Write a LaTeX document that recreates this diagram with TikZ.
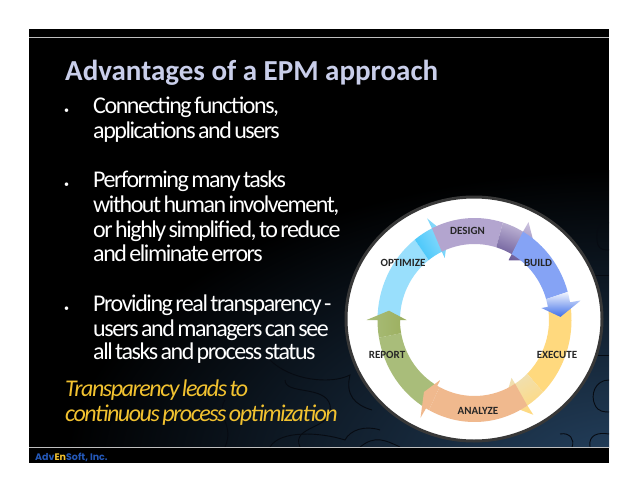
\documentclass[tikz,border=0pt]{standalone}
\usepackage{fontspec}
\setmainfont{Carlito}
\newfontfamily\bodyfont[LetterSpace=-6,WordSpace=0.6]{Carlito}
\newfontfamily\logofont{Poppins}
\definecolor{navy}{HTML}{24415F}
\definecolor{titleblue}{HTML}{C9CEEA}
\definecolor{noteyellow}{HTML}{F2C230}
\definecolor{puzzle}{HTML}{070B12}
\definecolor{logoblue}{HTML}{2458B8}
\definecolor{optimizebody}{HTML}{99DFFC}
\definecolor{optimizehead}{HTML}{45C6FA}
\definecolor{reportbody}{HTML}{A9BD7A}
\definecolor{reporthead}{HTML}{9CAF5E}
\definecolor{executebody}{HTML}{FFD97E}
\definecolor{executehead}{HTML}{EFE0B4}
\definecolor{analyzebody}{HTML}{F0B98E}
\definecolor{designbody}{HTML}{B3A5CF}
\definecolor{designhead}{HTML}{6A5A98}
\definecolor{buildbody}{HTML}{85A3F5}
\definecolor{buildhead}{HTML}{3F6FE8}
\tikzset{
	titletext/.style={anchor=base west, inner sep=0, text=titleblue, font=\fontsize{29}{29}\selectfont\bfseries},
	bodytext/.style={anchor=base west, inner sep=0, text=white, font=\fontsize{24}{24}\bodyfont},
	notetext/.style={anchor=base west, inner sep=0, text=noteyellow, font=\fontsize{24}{24}\bodyfont\itshape},
	dottext/.style={anchor=base west, inner sep=0, text=white, font=\fontsize{10}{10}\selectfont},
	ringtext/.style={inner sep=0, text=black!85, font=\fontsize{11}{11}\selectfont\bfseries},
	puzzleline/.style={draw=puzzle, line width=0.9pt},
}
\newcommand{\ringarrow}[8]{
	\fill[#5] (#1:97 and 102) arc[start angle=#1, end angle=#2, x radius=97, y radius=102]
		-- (#2:74.5 and 76) arc[start angle=#2, end angle=#1, x radius=74.5, y radius=76] -- cycle;
	\shade[left color=#6, right color=#7, shading angle=#8] (#2:97 and 102)
		arc[start angle=#2, end angle=#3, x radius=97, y radius=102]
		-- (#3:108 and 113) -- (#4:86 and 89) -- (#3:68 and 69) -- (#3:74.5 and 76)
		arc[start angle=#3, end angle=#2, x radius=74.5, y radius=76] -- cycle;
}
\begin{document}
\begin{tikzpicture}[x=1pt, y=-1pt]
	\useasboundingbox (0,0) rectangle (638,493);
	\fill[white] (0,0) rectangle (638,493);
	\fill[black] (29,29) rectangle (609,463);
	% background
	\begin{scope}
		\clip (29,38) rectangle (609,447);
		\shade[inner color=navy, outer color=black] (625,470) ellipse (560 and 300);
		\draw[puzzleline] (300,447) .. controls (290,425) and (335,430) .. (330,405) .. controls (325,385) and (285,395) .. (285,380);
		\draw[puzzleline] (270,360) .. controls (290,380) and (330,385) .. (350,375) .. controls (345,395) and (355,405) .. (372,410);
		\draw[puzzleline] (225,447) .. controls (235,425) and (215,415) .. (225,400);
		\draw[puzzleline] (270,447) .. controls (280,430) and (320,432) .. (345,440) .. controls (350,430) and (365,425) .. (380,430);
		\draw[puzzleline] (360,447) .. controls (375,435) and (385,440) .. (400,447);
		\draw[puzzleline] (580,275) -- (609,275);
		\draw[puzzleline] (590,355) -- (609,355);
		\draw[puzzleline] (609,380) .. controls (595,380) and (590,395) .. (595,405) .. controls (598,412) and (605,412) .. (609,412);
		\draw[puzzleline] (590,447) .. controls (588,435) and (598,432) .. (609,434);
		\draw[puzzleline] (560,434) .. controls (570,432) and (575,440) .. (572,447);
		\draw[puzzleline] (609,223) .. controls (597,220) and (595,235) .. (598,245) .. controls (600,250) and (605,250) .. (609,250);
	\end{scope}
	\draw[black!25, line width=1pt] (29,37.5) -- (609,37.5);
	\draw[black!25, line width=1pt] (29,447.5) -- (609,447.5);
	% text
	\node[titletext] (title) at (65,80) {Advantages of a EPM approach};
	\node[dottext] (dota) at (64,113) {•};
	\node[dottext] (dotb) at (64,187) {•};
	\node[dottext] (dotc) at (64,311) {•};
	\node[bodytext] (linea) at (93,113) {Connecting functions,};
	\node[bodytext] (lineb) at (93,138) {applications and users};
	\node[bodytext] (linec) at (93,187) {Performing many tasks};
	\node[bodytext] (lined) at (93,212) {without human involvement,};
	\node[bodytext] (linee) at (93,237) {or highly simplified, to reduce};
	\node[bodytext] (linef) at (93,261) {and eliminate errors};
	\node[bodytext] (lineg) at (93,311) {Providing real transparency -};
	\node[bodytext] (lineh) at (93,336) {users and managers can see};
	\node[bodytext] (linei) at (93,359) {all tasks and process status};
	\node[notetext] (notea) at (65,396) {Transparency leads to};
	\node[notetext] (noteb) at (65,421) {continuous process optimization};
	\node[anchor=base west, inner sep=0, font=\fontsize{9.5}{9.5}\logofont\bfseries, text=logoblue] (logo) at (35,460) {Adv\textcolor{noteyellow}{En}Soft, Inc.};
	% ring
	\fill[white, draw=black!78, line width=3pt] (474,319) ellipse (128 and 122);
	\begin{scope}[shift={(474.5,320)}]
		\ringarrow{180}{232}{244}{252}{optimizebody}{optimizebody}{optimizehead}{-60}
		\ringarrow{120}{170}{180}{186}{reportbody}{reportbody}{reporthead}{90}
		\ringarrow{350}{405}{417}{430}{executebody}{executebody}{executehead}{-150}
		\ringarrow{57}{118}{120}{126}{analyzebody}{analyzebody}{analyzebody}{0}
		\ringarrow{244}{287}{300}{318}{designbody}{designbody!70!white}{designhead}{-20}
		\ringarrow{300}{344}{350}{358}{buildbody}{buildbody!10!white}{buildhead}{0}
	\end{scope}
	\node[ringtext] (design) at (467.5,231) {DESIGN};
	\node[ringtext] (build) at (538,263) {BUILD};
	\node[ringtext] (optimize) at (403,263) {OPTIMIZE};
	\node[ringtext] (execute) at (557,354.5) {EXECUTE};
	\node[ringtext] (report) at (387,354.5) {REPORT};
	\node[ringtext] (analyze) at (478,411) {ANALYZE};
\end{tikzpicture}
\end{document}
